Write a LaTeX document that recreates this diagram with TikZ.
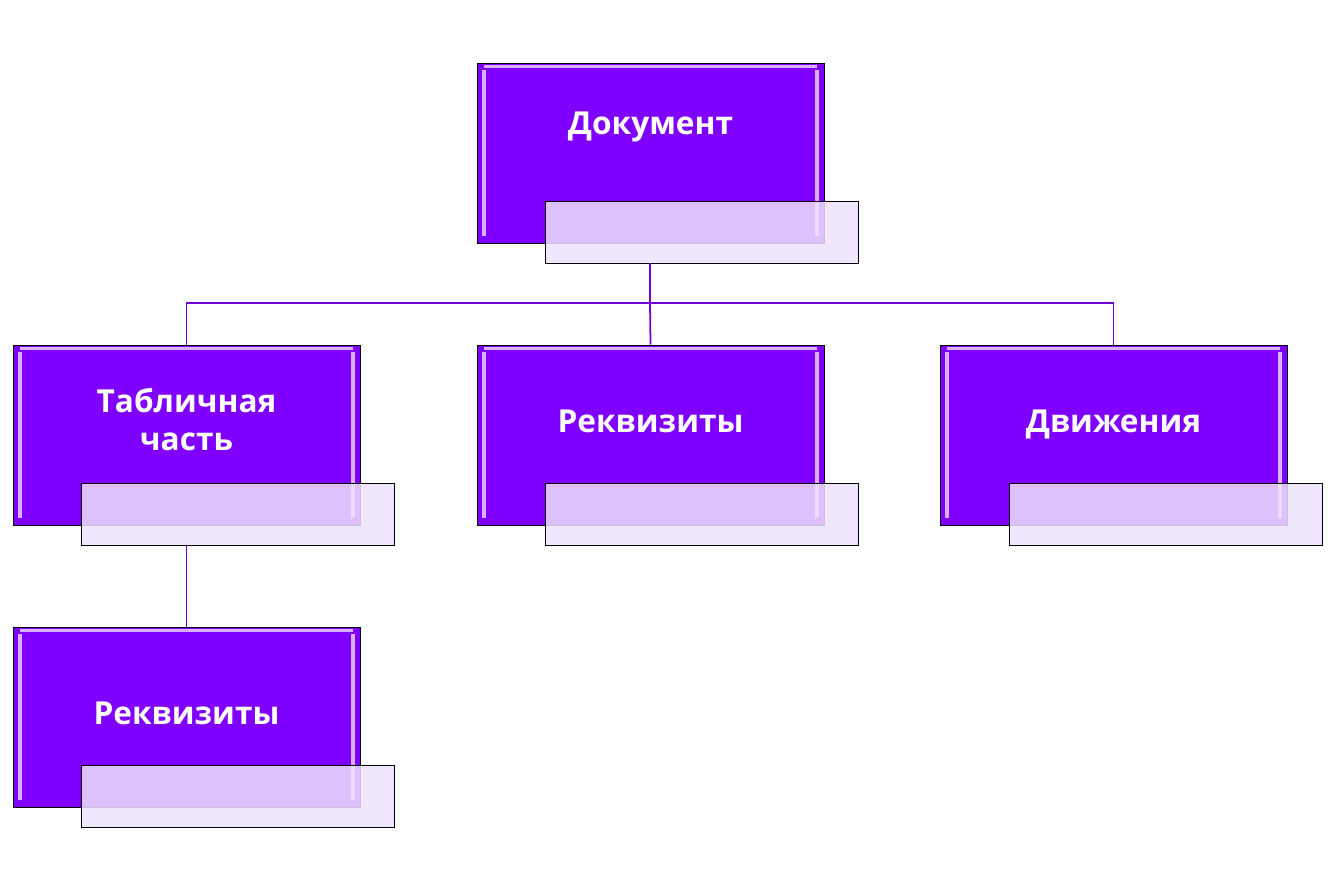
\documentclass[tikz,border=0pt]{standalone}
\usepackage{fontspec}
\setmainfont{Open Sans}
\usetikzlibrary{positioning}
\definecolor{violet}{HTML}{8000FF}
\definecolor{lavender}{HTML}{EFE3FC}
\definecolor{linkcol}{HTML}{7000D8}
\tikzset{
  unitbox/.style={rectangle,draw=black,fill=violet,minimum width=6.94cm,minimum height=3.6cm,
    inner sep=0pt,align=center,text=white,font=\fontsize{18}{24}\selectfont\bfseries,
    path picture={\draw[white!70!violet,line width=2pt]
      ([xshift=4pt,yshift=-4pt]path picture bounding box.north west)--([xshift=4pt,yshift=4pt]path picture bounding box.south west)
      ([xshift=-4pt,yshift=-4pt]path picture bounding box.north east)--([xshift=-4pt,yshift=4pt]path picture bounding box.south east)
      ([xshift=4pt,yshift=-2pt]path picture bounding box.north west)--([xshift=-4pt,yshift=-2pt]path picture bounding box.north east);}},
  tagbox/.style={rectangle,draw=black,fill=lavender,fill opacity=0.85,minimum width=6.26cm,minimum height=1.24cm,inner sep=0pt},
  link/.style={draw=linkcol,line width=1pt}
}
\begin{document}
\begin{tikzpicture}[x=0.02cm,y=-0.02cm]
\useasboundingbox (0,0) rectangle (1334,889);
% verkehr
\draw[link] (650,263) -- (650,303);
\node[unitbox,text depth=1.2cm] (doc) at (650.5,153) {Документ};
\node[tagbox] (doct) at (701.5,232) {};
\node[unitbox] (tab) at (186.5,435) {\raisebox{1.1cm}{\parbox{6cm}{\centering Табличная\\[-2pt] часть}}};
\node[unitbox] (req) at (650.5,435) {\raisebox{0.55cm}{Реквизиты}};
\node[unitbox] (mov) at (1113.5,435) {\raisebox{0.55cm}{Движения}};
\node[unitbox] (req2) at (186.5,717) {\raisebox{0.15cm}{Реквизиты}};
% verbindungen
\coordinate (bus) at (650,303);
\draw[link] (doct.south -| bus) -- (bus);
\draw[link] (tab.north) |- (bus) -| (mov.north);
\draw[link] (bus) -- (req.north);
\node[tagbox] (tabt) at (238,514) {};
\node[tagbox] (reqt) at (701.5,514) {};
\node[tagbox] (movt) at (1165.5,514) {};
\draw[link] (tabt.south -| tab) -- (req2.north);
\node[tagbox] (req2t) at (238,796) {};
\end{tikzpicture}
\end{document}
